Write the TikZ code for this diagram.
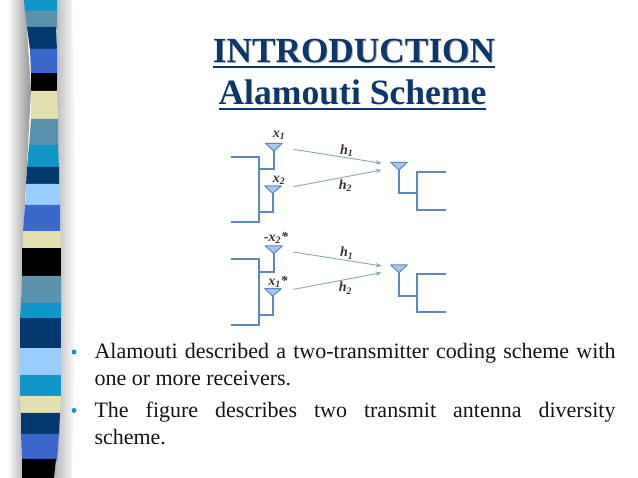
\documentclass[tikz,border=0pt]{standalone}
\usepackage{fontspec}
\setmainfont{Liberation Serif}
\usetikzlibrary{arrows.meta,shadings}
\definecolor{wcyan}{HTML}{0F96C8}
\definecolor{wsteel}{HTML}{5B92AE}
\definecolor{wnavy}{HTML}{03396C}
\definecolor{wroyal}{HTML}{3A68CC}
\definecolor{wcream}{HTML}{E3E0B2}
\definecolor{wlight}{HTML}{99CCFF}
\definecolor{wline}{HTML}{5F88BC}
\definecolor{wfill}{HTML}{A9C8EE}
\definecolor{warrow}{HTML}{8CA6BE}
\definecolor{wtitle}{HTML}{0C3768}
\tikzset{
  wire/.style={draw=wline,line width=1.9pt,line join=miter},
  ant/.style={draw=wline,fill=wfill,line width=1pt,line join=round},
  link/.style={draw=warrow,line width=0.9pt,-{Stealth[length=6pt,width=4.5pt]}},
  lab/.style={inner sep=0pt,text=black!80,font=\fontsize{14}{15}\selectfont\bfseries\itshape},
  body/.style={inner sep=0pt,anchor=base west,text=black!92,font=\fontsize{22}{24}\selectfont},
  dot/.style={circle,fill=wcyan,inner sep=0pt,minimum size=5pt},
  ttl/.style={inner sep=0pt,anchor=base,text=wtitle,font=\fontsize{35.3}{37}\selectfont\bfseries},
  ttlb/.style={ttl,font=\fontsize{35.6}{37}\selectfont\bfseries}
}
% strip band: #1 colour, #2 top y, #3 bottom y, #4 top-left x, #5 top-right x, #6 bottom-left x, #7 bottom-right x
\newcommand{\band}[7]{\fill[#1] (#4,#2) -- (#5,#2) -- (#7,#3) -- (#6,#3) -- cycle;}
\newcommand{\mimo}[4]{%
  \begin{scope}[shift={(0,#1)}]
    \coordinate (ta#4) at (274,151);
    \coordinate (tb#4) at (272.7,193.3);
    \coordinate (r#4) at (399,170);
    \coordinate (bus1#4) at (259.3,156.7);
    \coordinate (bus2#4) at (259.3,222.3);
    \coordinate (in1#4) at (230.7,156.7);
    \coordinate (in2#4) at (230.7,222.3);
    \coordinate (out1#4) at (445.7,171.7);
    \coordinate (out2#4) at (445.7,209.7);
    \coordinate (split1#4) at (417,171.7);
    \coordinate (split2#4) at (417,209.7);
    \coordinate (s1#4) at (293.3,149.3);
    \coordinate (e1#4) at (381.7,163.3);
    \coordinate (s2#4) at (293.3,186.7);
    \coordinate (e2#4) at (381.7,170);
    \draw[wire] (in1#4) -- (bus1#4) -- (bus2#4) -- (in2#4);
    \draw[wire] (ta#4) |- (259.3,169.3);
    \draw[wire] (tb#4) |- (259.3,212.3);
    \draw[wire] (r#4) |- (417,193.3);
    \draw[wire] (out1#4) -- (split1#4) -- (split2#4) -- (out2#4);
    \draw[ant] (265.3,143.3) -- (282.3,143.3) -- (ta#4) -- cycle;
    \draw[ant] (264.7,186) -- (281.3,186) -- (tb#4) -- cycle;
    \draw[ant] (390.7,162.3) -- (407.3,162.3) -- (r#4) -- cycle;
    \draw[link] (s1#4) -- (e1#4);
    \draw[link] (s2#4) -- (e2#4);
    \node[lab] (h1#4) at (346.7,150.5) {h\textsubscript{1}};
    \node[lab] (h2#4) at (345.5,185.5) {h\textsubscript{2}};
    #2
    #3
  \end{scope}}
\begin{document}
\begin{tikzpicture}[x=1pt,y=-1pt]
\useasboundingbox (0,0) rectangle (638,478);
\fill[white] (0,0) rectangle (638,478);
% strip shadow
\shade[left color=white,right color=black!42] (7,0) -- (25,0) -- (31,90) -- (24,220) -- (20,340) -- (22,478) -- (7,478) -- cycle;
\shade[left color=black!30,right color=white] (56,0) -- (72,0) -- (76,240) -- (72,478) -- (53,478) -- (60,350) -- cycle;
% strip
\band{wcyan}{0}{12}{24}{57}{25}{57}
\band{wsteel}{11}{29}{25}{57}{27}{57}
\band{wnavy}{27}{50}{27}{56}{30}{57}
\band{wroyal}{49}{75}{30}{57}{31}{57}
\band{black}{73}{92}{31}{57}{31}{57}
\band{wcream}{91}{121}{31}{57}{31}{58}
\band{wsteel}{119}{147}{31}{58}{29}{58}
\band{wcyan}{145}{169}{29}{58}{27}{59}
\band{wnavy}{167}{185}{27}{59}{26}{59}
\band{wlight}{184}{207}{26}{59}{25}{60}
\band{wroyal}{205}{232}{25}{60}{23}{60}
\band{wcream}{231}{249}{23}{61}{23}{61}
\band{black}{248}{278}{22}{61}{22}{61}
\band{wsteel}{276}{304}{22}{61}{21}{61}
\band{wcyan}{303}{319}{21}{61}{20}{61}
\band{wnavy}{318}{350}{20}{61}{20}{61}
\band{wlight}{348}{377}{20}{61}{20}{61}
\band{wcyan}{375}{397}{20}{61}{20}{61}
\band{wcream}{396}{414}{20}{61}{21}{60}
\band{wnavy}{413}{436}{21}{60}{21}{59}
\band{wroyal}{434}{461}{21}{59}{22}{57}
\band{black}{459}{478}{22}{56}{22}{54}
% title
\node[ttl,text=black!30] (t1s) at (354.8,64) {INTRODUCTION};
\node[ttl] (t1) at (354,63) {INTRODUCTION};
\fill[wtitle] (213,66.5) rectangle (495,68);
\node[ttlb] (t2) at (352.5,105) {Alamouti Scheme};
\fill[wtitle] (219,108.5) rectangle (486,110);
% diagrams
\mimo{0}{\node[lab] (a1) at (279,135.5) {x\textsubscript{1}};}{\node[lab] (a2) at (279,180) {x\textsubscript{2}};}{u}
\mimo{102.7}{\node[lab] (b1) at (276,135) {-x\textsubscript{2}*};}{\node[lab] (b2) at (278,179) {x\textsubscript{1}*};}{v}
% bullets
\node[dot] (d1) at (74,352) {};
\node[dot] (d2) at (74,410.5) {};
\node[body] (l1) at (94.3,359) {\makebox[521pt][s]{Alamouti described a two-transmitter coding scheme with}};
\node[body] (l2) at (94.3,386) {one or more receivers.};
\node[body] (l3) at (94.3,417.7) {\makebox[521pt][s]{The figure describes two transmit antenna diversity}};
\node[body] (l4) at (94.3,445) {scheme.};
\end{tikzpicture}
\end{document}
